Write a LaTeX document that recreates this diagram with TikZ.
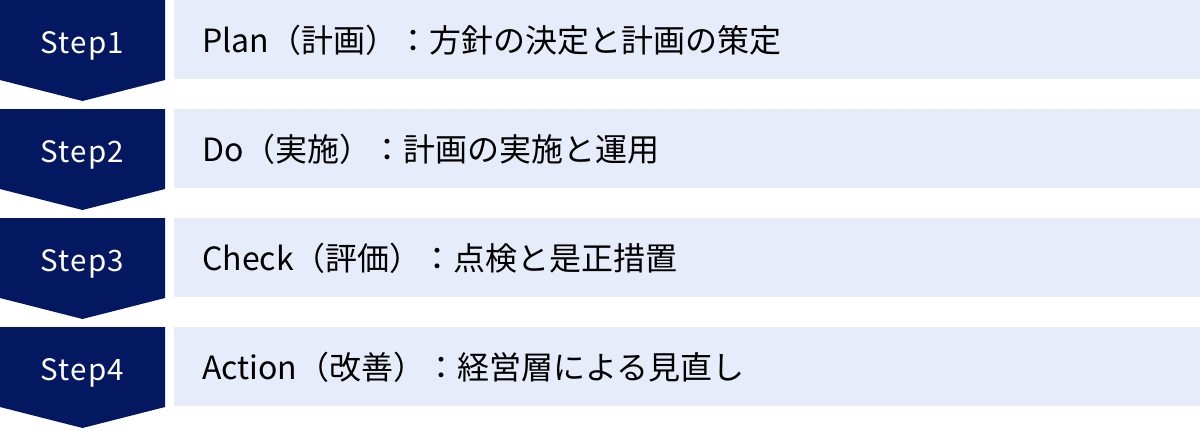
\documentclass[tikz,border=0pt]{standalone}
\usepackage{fontspec}
\setmainfont{Noto Sans CJK JP}
\newfontfamily\stepfont[LetterSpace=4]{Noto Sans CJK JP}
\usetikzlibrary{positioning}
\definecolor{stepnavy}{HTML}{041862}
\definecolor{rowblue}{HTML}{E6ECF9}

\tikzset{
  steplabel/.style={text=white, font=\stepfont\fontsize{29.5}{36}\selectfont, anchor=base, inner sep=0pt},
  rowtext/.style={text=black, font=\fontsize{32}{38}\selectfont, anchor=base west, inner sep=0pt},
}

\begin{document}
\begin{tikzpicture}[x=1pt, y=-1pt, line join=round]
\useasboundingbox (0,0) rectangle (1200,429);
\foreach \n/\t [count=\i from 0] in {1/{Plan（計画）：方針の決定と計画の策定},
                                      2/{Do（実施）：計画の実施と運用},
                                      3/{Check（評価）：点検と是正措置},
                                      4/{Action（改善）：経営層による見直し}} {
    \pgfmathsetmacro{\top}{109*\i}
    % chevron
    \fill[stepnavy] (0,\top) -- (165,\top) -- (165,\top+80) -- (82.5,\top+101) -- (0,\top+80) -- cycle;
    % row band
    \fill[rowblue] (174,\top) rectangle (1200,\top+79);
    \node[steplabel] (step\n) at (82.5,\top+53) {Step\n};
    \node[rowtext] (text\n) at (202,\top+52) {\t};
}
\end{tikzpicture}
\end{document}
